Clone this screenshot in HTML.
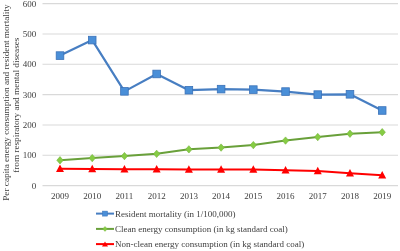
<!DOCTYPE html>
<html><head><meta charset="utf-8"><style>
html,body{margin:0;padding:0;background:#fff;width:400px;height:251px;overflow:hidden}
svg{display:block;will-change:transform}
text{font-family:"Liberation Serif",serif;font-size:9px;fill:#404040}
</style></head><body>
<svg width="400" height="251" viewBox="0 0 400 251">
<line x1="42.5" x2="398" y1="185.60" y2="185.60" stroke="#d9d9d9" stroke-width="1.1"/>
<text x="36.3" y="188.70" text-anchor="end">0</text>
<line x1="42.5" x2="398" y1="155.27" y2="155.27" stroke="#d9d9d9" stroke-width="1.1"/>
<text x="36.3" y="158.37" text-anchor="end">100</text>
<line x1="42.5" x2="398" y1="124.93" y2="124.93" stroke="#d9d9d9" stroke-width="1.1"/>
<text x="36.3" y="128.03" text-anchor="end">200</text>
<line x1="42.5" x2="398" y1="94.60" y2="94.60" stroke="#d9d9d9" stroke-width="1.1"/>
<text x="36.3" y="97.70" text-anchor="end">300</text>
<line x1="42.5" x2="398" y1="64.27" y2="64.27" stroke="#d9d9d9" stroke-width="1.1"/>
<text x="36.3" y="67.37" text-anchor="end">400</text>
<line x1="42.5" x2="398" y1="33.93" y2="33.93" stroke="#d9d9d9" stroke-width="1.1"/>
<text x="36.3" y="37.03" text-anchor="end">500</text>
<line x1="42.5" x2="398" y1="3.60" y2="3.60" stroke="#d9d9d9" stroke-width="1.1"/>
<text x="36.3" y="6.70" text-anchor="end">600</text>
<text x="60.00" y="199.3" text-anchor="middle">2009</text>
<text x="92.22" y="199.3" text-anchor="middle">2010</text>
<text x="124.44" y="199.3" text-anchor="middle">2011</text>
<text x="156.66" y="199.3" text-anchor="middle">2012</text>
<text x="188.88" y="199.3" text-anchor="middle">2013</text>
<text x="221.10" y="199.3" text-anchor="middle">2014</text>
<text x="253.32" y="199.3" text-anchor="middle">2015</text>
<text x="285.54" y="199.3" text-anchor="middle">2016</text>
<text x="317.76" y="199.3" text-anchor="middle">2017</text>
<text x="349.98" y="199.3" text-anchor="middle">2018</text>
<text x="382.20" y="199.3" text-anchor="middle">2019</text>
<polyline points="60.00,55.59 92.22,40.09 124.44,91.35 156.66,73.97 188.88,90.20 221.10,89.14 253.32,89.59 285.54,91.57 317.76,94.60 349.98,94.30 382.20,110.49" fill="none" stroke="#477ec2" stroke-width="2.2" stroke-linejoin="round"/>
<polyline points="60.00,160.27 92.22,158.09 124.44,156.09 156.66,153.84 188.88,149.35 221.10,147.59 253.32,145.10 285.54,140.59 317.76,137.07 349.98,133.73 382.20,132.21" fill="none" stroke="#69a03a" stroke-width="2" stroke-linejoin="round"/>
<polyline points="60.00,168.76 92.22,168.92 124.44,169.22 156.66,169.22 188.88,169.52 221.10,169.52 253.32,169.52 285.54,170.13 317.76,171.04 349.98,173.31 382.20,175.13" fill="none" stroke="#ff0000" stroke-width="2" stroke-linejoin="round"/>
<rect x="56.20" y="51.79" width="7.6" height="7.6" fill="#4a8fd8" stroke="#3b72b8" stroke-width="0.8"/>
<rect x="88.42" y="36.29" width="7.6" height="7.6" fill="#4a8fd8" stroke="#3b72b8" stroke-width="0.8"/>
<rect x="120.64" y="87.55" width="7.6" height="7.6" fill="#4a8fd8" stroke="#3b72b8" stroke-width="0.8"/>
<rect x="152.86" y="70.17" width="7.6" height="7.6" fill="#4a8fd8" stroke="#3b72b8" stroke-width="0.8"/>
<rect x="185.08" y="86.40" width="7.6" height="7.6" fill="#4a8fd8" stroke="#3b72b8" stroke-width="0.8"/>
<rect x="217.30" y="85.34" width="7.6" height="7.6" fill="#4a8fd8" stroke="#3b72b8" stroke-width="0.8"/>
<rect x="249.52" y="85.80" width="7.6" height="7.6" fill="#4a8fd8" stroke="#3b72b8" stroke-width="0.8"/>
<rect x="281.74" y="87.77" width="7.6" height="7.6" fill="#4a8fd8" stroke="#3b72b8" stroke-width="0.8"/>
<rect x="313.96" y="90.80" width="7.6" height="7.6" fill="#4a8fd8" stroke="#3b72b8" stroke-width="0.8"/>
<rect x="346.18" y="90.50" width="7.6" height="7.6" fill="#4a8fd8" stroke="#3b72b8" stroke-width="0.8"/>
<rect x="378.40" y="106.69" width="7.6" height="7.6" fill="#4a8fd8" stroke="#3b72b8" stroke-width="0.8"/>
<polygon points="60.00,156.57 63.20,160.27 60.00,163.97 56.80,160.27" fill="#86cc44" stroke="#74b43a" stroke-width="0.6"/>
<polygon points="92.22,154.39 95.42,158.09 92.22,161.79 89.02,158.09" fill="#86cc44" stroke="#74b43a" stroke-width="0.6"/>
<polygon points="124.44,152.39 127.64,156.09 124.44,159.79 121.24,156.09" fill="#86cc44" stroke="#74b43a" stroke-width="0.6"/>
<polygon points="156.66,150.14 159.86,153.84 156.66,157.54 153.46,153.84" fill="#86cc44" stroke="#74b43a" stroke-width="0.6"/>
<polygon points="188.88,145.65 192.08,149.35 188.88,153.05 185.68,149.35" fill="#86cc44" stroke="#74b43a" stroke-width="0.6"/>
<polygon points="221.10,143.89 224.30,147.59 221.10,151.29 217.90,147.59" fill="#86cc44" stroke="#74b43a" stroke-width="0.6"/>
<polygon points="253.32,141.41 256.52,145.10 253.32,148.80 250.12,145.10" fill="#86cc44" stroke="#74b43a" stroke-width="0.6"/>
<polygon points="285.54,136.89 288.74,140.59 285.54,144.29 282.34,140.59" fill="#86cc44" stroke="#74b43a" stroke-width="0.6"/>
<polygon points="317.76,133.37 320.96,137.07 317.76,140.77 314.56,137.07" fill="#86cc44" stroke="#74b43a" stroke-width="0.6"/>
<polygon points="349.98,130.03 353.18,133.73 349.98,137.43 346.78,133.73" fill="#86cc44" stroke="#74b43a" stroke-width="0.6"/>
<polygon points="382.20,128.51 385.40,132.21 382.20,135.91 379.00,132.21" fill="#86cc44" stroke="#74b43a" stroke-width="0.6"/>
<polygon points="60.00,164.51 64.00,172.01 56.00,172.01" fill="#ff0000"/>
<polygon points="92.22,164.67 96.22,172.17 88.22,172.17" fill="#ff0000"/>
<polygon points="124.44,164.97 128.44,172.47 120.44,172.47" fill="#ff0000"/>
<polygon points="156.66,164.97 160.66,172.47 152.66,172.47" fill="#ff0000"/>
<polygon points="188.88,165.27 192.88,172.77 184.88,172.77" fill="#ff0000"/>
<polygon points="221.10,165.27 225.10,172.77 217.10,172.77" fill="#ff0000"/>
<polygon points="253.32,165.27 257.32,172.77 249.32,172.77" fill="#ff0000"/>
<polygon points="285.54,165.88 289.54,173.38 281.54,173.38" fill="#ff0000"/>
<polygon points="317.76,166.79 321.76,174.29 313.76,174.29" fill="#ff0000"/>
<polygon points="349.98,169.06 353.98,176.56 345.98,176.56" fill="#ff0000"/>
<polygon points="382.20,170.88 386.20,178.38 378.20,178.38" fill="#ff0000"/>
<line x1="96" x2="114" y1="213.6" y2="213.6" stroke="#477ec2" stroke-width="2"/>
<rect x="102.50" y="211.10" width="5" height="5" fill="#4a8fd8" stroke="#3b72b8" stroke-width="0.5"/>
<text x="115" y="216.90">Resident mortality (in 1/100,000)</text>
<line x1="96" x2="114" y1="228.9" y2="228.9" stroke="#69a03a" stroke-width="2"/>
<polygon points="105.00,226.40 107.25,228.90 105.00,231.40 102.75,228.90" fill="#86cc44" stroke="#74b43a" stroke-width="0.4"/>
<text x="115" y="232.20">Clean energy consumption (in kg standard coal)</text>
<line x1="96" x2="114" y1="244.1" y2="244.1" stroke="#ff0000" stroke-width="2"/>
<polygon points="105.00,241.60 108.00,246.60 102.00,246.60" fill="#ff0000"/>
<text x="115" y="247.40">Non-clean energy consumption (in kg standard coal)</text>
<g transform="translate(9,102.6) rotate(-90)"><text x="0" y="0" text-anchor="middle" style="font-size:9.2px">Per capita energy consumption and resident mortality</text></g>
<g transform="translate(18.8,105.2) rotate(-90)"><text x="0" y="0" text-anchor="middle" style="font-size:9.2px">from respiratory and mental diseases</text></g>
</svg></body></html>
